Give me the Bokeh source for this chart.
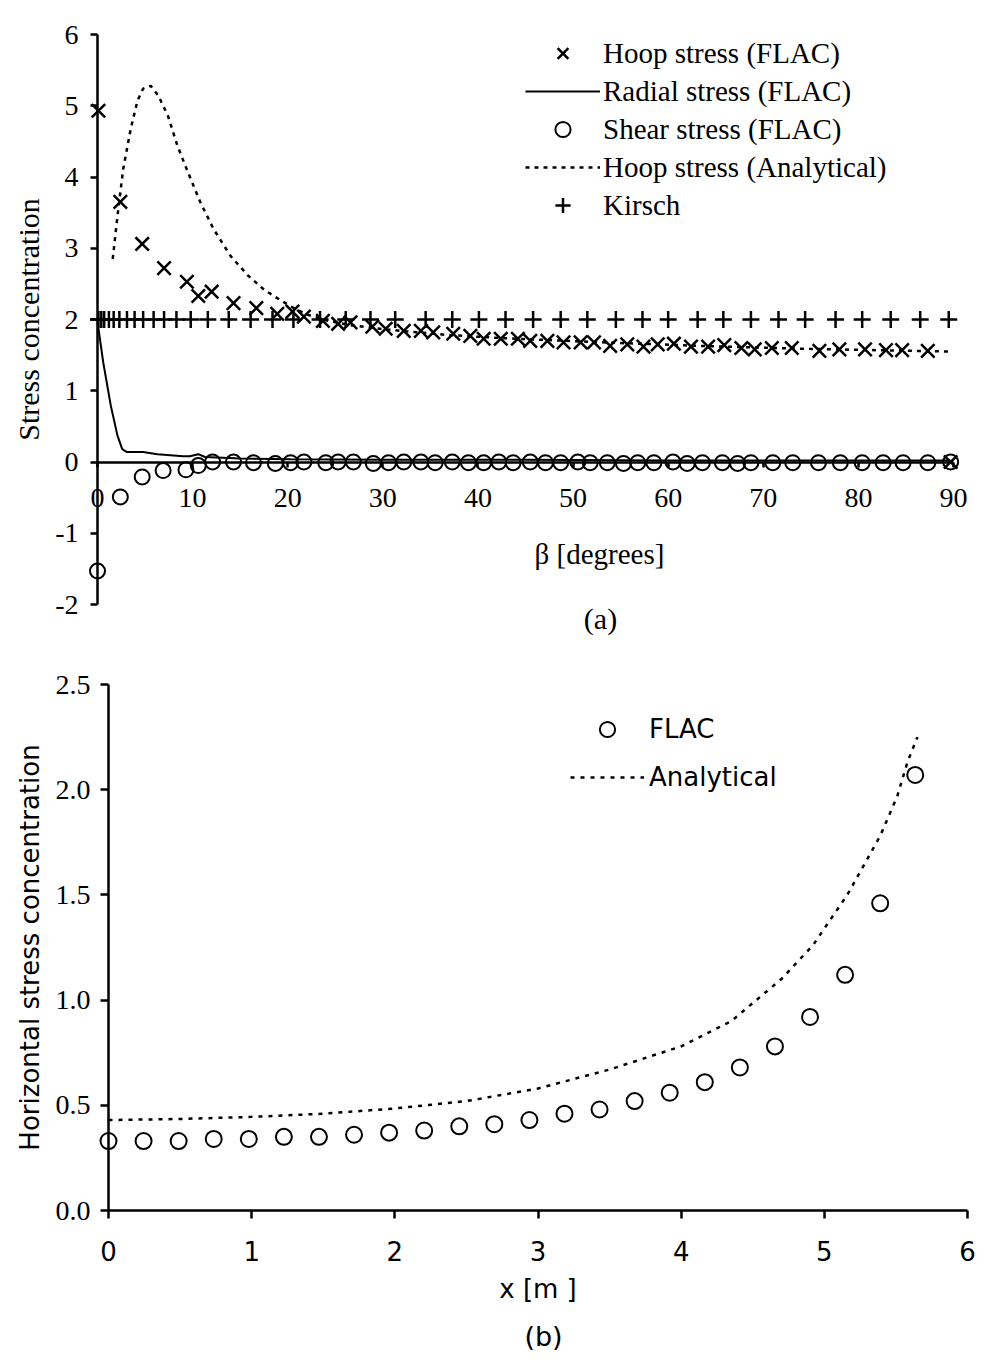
from bokeh.plotting import figure
from bokeh.layouts import column
from bokeh.models import Legend, LegendItem, Label, FixedTicker, Range1d, PrintfTickFormatter
from bokeh.embed import file_html
from bokeh.resources import INLINE

# ---- panel (a): stresses around the opening vs. angle beta ----
hoop_flac_beta = [0.1, 2.4, 4.7, 7.0, 9.4, 10.6, 12.0, 14.3, 16.7, 18.9, 20.5, 21.7, 23.7, 25.3, 26.6,
                  28.9, 30.3, 32.2, 34.0, 35.3, 37.4, 39.2, 40.6, 42.4, 44.2, 45.5, 47.3, 49.0, 50.8, 52.2,
                  53.9, 55.7, 57.4, 58.9, 60.6, 62.4, 64.2, 65.9, 67.7, 69.1, 70.9, 73.0, 75.9, 78.0, 80.7,
                  82.9, 84.6, 87.3, 89.7]
hoop_flac_val = [4.93, 3.65, 3.06, 2.72, 2.53, 2.33, 2.39, 2.23, 2.16, 2.08, 2.11, 2.04, 1.98, 1.94, 1.96,
                 1.90, 1.87, 1.84, 1.84, 1.82, 1.80, 1.77, 1.73, 1.73, 1.73, 1.70, 1.70, 1.68, 1.68, 1.68,
                 1.63, 1.65, 1.62, 1.65, 1.66, 1.62, 1.62, 1.64, 1.60, 1.58, 1.60, 1.60, 1.56, 1.58, 1.58,
                 1.57, 1.57, 1.56, 0.0]

radial_beta = [0.0, 0.6, 1.4, 2.1, 2.6, 3.1, 4.8, 6.3, 9.0, 9.7, 10.6, 11.3, 15.0, 20.3, 30.0, 45.0, 60.0, 75.0, 89.7]
radial_val = [1.97, 1.40, 0.79, 0.37, 0.18, 0.14, 0.14, 0.11, 0.08, 0.08, 0.11, 0.07, 0.05, 0.04, 0.03, 0.03, 0.02, 0.02, 0.02]

shear_beta = [0.0, 2.4, 4.7, 6.9, 9.3, 10.6, 12.1, 14.3, 16.4, 18.7, 20.3, 21.7, 24.0, 25.3, 26.9,
              29.0, 30.6, 32.2, 34.0, 35.5, 37.3, 39.0, 40.6, 42.2, 43.7, 45.5, 47.1, 48.7, 50.5, 51.8,
              53.6, 55.3, 56.8, 58.5, 60.5, 62.0, 63.6, 65.7, 67.3, 68.7, 71.0, 73.1, 75.8, 78.1, 80.4,
              82.6, 84.7, 87.3, 89.7]
shear_val = [-1.53, -0.49, -0.21, -0.12, -0.11, -0.05, 0.0, 0.0, -0.01, -0.02, -0.01, 0.0, -0.01, 0.0, 0.0,
             -0.02, -0.01, 0.0, 0.0, -0.01, 0.0, -0.01, -0.01, 0.0, -0.01, 0.0, -0.01, -0.01, 0.0, -0.01,
             -0.01, -0.02, -0.01, -0.01, 0.0, -0.02, -0.01, -0.01, -0.02, -0.01, -0.01, -0.01, -0.01, -0.01, -0.01,
             -0.01, -0.01, -0.01, 0.0]

hoop_anal_beta = [1.6, 2.1, 2.7, 3.5, 4.2, 4.8, 5.6, 6.4, 7.4, 8.4, 9.5, 10.8, 12.2, 14.0, 15.8, 17.5, 18.9,
                  20.5, 22.0, 24.0, 26.6, 29.0, 31.9, 37.1, 42.4, 52.9, 63.4, 73.9, 89.7]
hoop_anal_val = [2.85, 3.45, 4.11, 4.68, 5.07, 5.24, 5.28, 5.14, 4.86, 4.44, 4.07, 3.65, 3.27, 2.89, 2.62, 2.42, 2.30,
                 2.17, 2.07, 1.99, 1.92, 1.88, 1.84, 1.78, 1.74, 1.68, 1.63, 1.59, 1.55]

kirsch_beta = [0.1, 0.4, 0.7, 1.2, 1.7, 2.3, 3.1, 3.9, 4.8, 5.9, 7.0, 8.3, 9.8, 11.6, 13.8, 16.1, 18.4, 20.6,
               23.4, 26.1, 28.7, 31.3, 34.5, 37.3, 40.1, 42.9, 45.8, 48.7, 51.5, 54.5, 57.3, 60.0, 63.1, 65.8,
               68.7, 71.6, 74.4, 77.6, 80.4, 83.4, 86.5, 89.5]
kirsch_val = [2.0, 2.0, 2.0, 2.0, 2.0, 2.0, 2.0, 2.0, 2.0, 2.0, 2.0, 2.0, 2.0, 2.0, 2.0, 2.0, 2.0, 2.0,
              2.0, 2.0, 2.0, 2.0, 2.0, 2.0, 2.0, 2.0, 2.0, 2.0, 2.0, 2.0, 2.0, 2.0, 2.0, 2.0,
              2.0, 2.0, 2.0, 2.0, 2.0, 2.0, 2.0, 2.0]

a_xticks = [0, 10, 20, 30, 40, 50, 60, 70, 80, 90]
a_yticks = [-2, -1, 0, 1, 2, 3, 4, 5, 6]

# ---- panel (b): horizontal stress concentration along x ----
flac_x = [0.0, 0.245, 0.49, 0.735, 0.98, 1.225, 1.47, 1.715, 1.96, 2.205, 2.45, 2.695,
          2.94, 3.185, 3.43, 3.675, 3.92, 4.165, 4.41, 4.655, 4.9, 5.145, 5.39, 5.635]
flac_val = [0.33, 0.33, 0.33, 0.34, 0.34, 0.35, 0.35, 0.36, 0.37, 0.38, 0.40, 0.41,
            0.43, 0.46, 0.48, 0.52, 0.56, 0.61, 0.68, 0.78, 0.92, 1.12, 1.46, 2.07]

anal_x = [0.0, 0.5, 1.0, 1.5, 2.0, 2.5, 3.0, 3.5, 4.0, 4.35, 4.7, 4.92, 5.16, 5.39, 5.51, 5.58, 5.65]
anal_val = [0.43, 0.435, 0.445, 0.46, 0.485, 0.52, 0.58, 0.67, 0.78, 0.90, 1.10, 1.26, 1.50, 1.78, 1.97, 2.13, 2.25]

b_xticks = [0, 1, 2, 3, 4, 5, 6]
b_yticks = [0.0, 0.5, 1.0, 1.5, 2.0, 2.5]

SERIF = "Liberation Serif"
SANS = "DejaVu Sans"
CANVAS_W = 980


def padded_range(lo, hi, px_lo, px_hi, pad_lo, pad_hi):
    # data range whose [lo, hi] part spans px_hi - px_lo pixels, with extra pixels on both sides
    k = (hi - lo) / float(px_hi - px_lo)
    return Range1d(lo - pad_lo * k, hi + pad_hi * k)


def style_axis(ax, font, size, tick_out):
    ax.axis_line_width = 2.5
    ax.axis_line_color = "black"
    ax.major_tick_line_width = 2.5
    ax.major_tick_line_color = "black"
    ax.major_tick_in = 0
    ax.major_tick_out = tick_out
    ax.minor_tick_line_color = None
    ax.major_label_text_font = font
    ax.major_label_text_font_size = size
    ax.major_label_text_color = "black"
    ax.axis_label_text_font_style = "normal"
    ax.axis_label_text_color = "black"


def bare_figure(xr, yr, h):
    p = figure(frame_width=CANVAS_W, frame_height=h, x_range=xr, y_range=yr, min_border=0,
               output_backend="svg", toolbar_location=None)
    p.outline_line_color = None
    p.grid.visible = False
    return p


# panel (a) frame: data box 0..90 x -2..6 sits at 97..953 px, with 34 px above and 42 px below
HA = 646
pa = bare_figure(padded_range(0, 90, 97, 953, 97, CANVAS_W - 953),
                 padded_range(-2, 6, 36, 606, 42, 34), HA)

r_hoop = pa.scatter(hoop_flac_beta, hoop_flac_val, marker="x", size=19, line_color="black", line_width=2.5)
r_radial = pa.line(radial_beta, radial_val, line_color="black", line_width=2)
r_shear = pa.scatter(shear_beta, shear_val, marker="circle", size=15, fill_color=None,
                     line_color="black", line_width=2)
r_anal = pa.line(hoop_anal_beta, hoop_anal_val, line_color="black", line_width=2.5, line_dash="4 5")
r_kirsch = pa.scatter(kirsch_beta, kirsch_val, marker="cross", size=17, line_color="black", line_width=2.5)

style_axis(pa.xaxis[0], SERIF, "28px", 5)
pa.xaxis.fixed_location = 0
pa.xaxis.bounds = (0, 90)
pa.xaxis.ticker = FixedTicker(ticks=a_xticks)
pa.xaxis.formatter = PrintfTickFormatter(format="%d")
pa.xaxis.major_label_standoff = 22

style_axis(pa.yaxis[0], SERIF, "28px", 7)
pa.yaxis.fixed_location = 0
pa.yaxis.bounds = (-2, 6)
pa.yaxis.ticker = FixedTicker(ticks=a_yticks)
pa.yaxis.formatter = PrintfTickFormatter(format="%d")
pa.yaxis.major_label_standoff = 12
pa.yaxis.axis_label = "Stress concentration"
pa.yaxis.axis_label_text_font = SERIF
pa.yaxis.axis_label_text_font_size = "30px"
pa.yaxis.axis_label_standoff = 7

leg_a = Legend(items=[
    LegendItem(label="Hoop stress (FLAC)", renderers=[r_hoop]),
    LegendItem(label="Radial stress (FLAC)", renderers=[r_radial]),
    LegendItem(label="Shear stress (FLAC)", renderers=[r_shear]),
    LegendItem(label="Hoop stress (Analytical)", renderers=[r_anal]),
    LegendItem(label="Kirsch", renderers=[r_kirsch]),
], location=(525, 422), glyph_width=75, glyph_height=38, label_height=38, spacing=0,
    padding=0, margin=0, label_standoff=3, border_line_color=None, background_fill_alpha=0,
    label_text_font=SERIF, label_text_font_size="29px", label_text_color="black")
pa.add_layout(leg_a)

pa.add_layout(Label(x=599, y=93, x_units="screen", y_units="screen", text="\u03b2 [degrees]",
                    text_align="center", text_baseline="middle", text_color="black",
                    text_font=SERIF, text_font_size="29px"))
pa.add_layout(Label(x=600, y=28, x_units="screen", y_units="screen", text="(a)",
                    text_align="center", text_baseline="middle", text_color="black",
                    text_font=SERIF, text_font_size="30px"))

# panel (b) frame: data box 0..6 x 0..2.5 sits at 108..967 px, with 38 px above and 146 px below
HB = 710
pb = bare_figure(padded_range(0, 6, 108, 967, 108, CANVAS_W - 967),
                 padded_range(0, 2.5, 686, 1212, 146, 38), HB)

r_flac = pb.scatter(flac_x, flac_val, marker="circle", size=16, fill_color=None,
                    line_color="black", line_width=2)
r_an = pb.line(anal_x, anal_val, line_color="black", line_width=2.5, line_dash="4 6")

style_axis(pb.xaxis[0], SANS, "26px", 8)
pb.xaxis.fixed_location = 0
pb.xaxis.bounds = (0, 6)
pb.xaxis.ticker = FixedTicker(ticks=b_xticks)
pb.xaxis.formatter = PrintfTickFormatter(format="%d")
pb.xaxis.major_label_standoff = 22
pb.xaxis.axis_label = "x [m ]"
pb.xaxis.axis_label_text_font = SANS
pb.xaxis.axis_label_text_font_size = "26px"
pb.xaxis.axis_label_standoff = 10

style_axis(pb.yaxis[0], SERIF, "28px", 8)
pb.yaxis.fixed_location = 0
pb.yaxis.bounds = (0, 2.5)
pb.yaxis.ticker = FixedTicker(ticks=b_yticks)
pb.yaxis.formatter = PrintfTickFormatter(format="%.1f")
pb.yaxis.major_label_standoff = 10
pb.yaxis.axis_label = "Horizontal stress concentration"
pb.yaxis.axis_label_text_font = SANS
pb.yaxis.axis_label_text_font_size = "26px"
pb.yaxis.axis_label_standoff = 8

leg_b = Legend(items=[
    LegendItem(label="FLAC", renderers=[r_flac]),
    LegendItem(label="Analytical", renderers=[r_an]),
], location=(570, 560), glyph_width=74, glyph_height=38, label_height=38, spacing=10,
    padding=0, margin=0, label_standoff=5, border_line_color=None, background_fill_alpha=0,
    label_text_font=SANS, label_text_font_size="26px", label_text_color="black")
pb.add_layout(leg_b)

pb.add_layout(Label(x=543, y=20, x_units="screen", y_units="screen", text="(b)",
                    text_align="center", text_baseline="middle", text_color="black",
                    text_font=SANS, text_font_size="27px"))

layout = column(pa, pb, spacing=0)
open("out.html", "w").write(file_html(layout, INLINE))
